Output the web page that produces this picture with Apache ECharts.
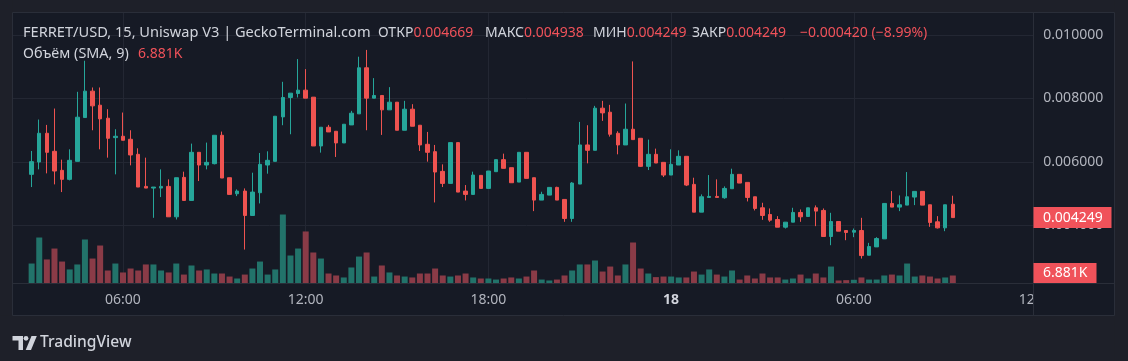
<!DOCTYPE html>
<html><head><meta charset="utf-8">
<script src="https://cdn.jsdelivr.net/npm/echarts@6/dist/echarts.min.js"></script>
<style>html,body{margin:0;padding:0;background:#161a25;}#c{width:1128px;height:361px;}</style>
</head><body><div id="c"></div>
<script>
// ---- data (15-minute candles, FERRET/USD) ----
const START_DAY = 17;          // first slot day
const START_MINUTE = 150;      // 02:30 = first (empty) slot
const SLOT_MINUTES = 15;
const SLOT_COUNT = 135;        // slots on the time axis
const FIRST_CANDLE_SLOT = 2;   // first candle at 03:00

const open = [
0.005611,0.006000,0.006905,0.006337,0.005737,0.005453,0.006021,0.007400,0.008232,0.007789,
0.007379,0.006768,0.006811,0.006716,0.006242,0.005232,0.005179,0.005179,0.005232,0.004274,
0.005516,0.004789,0.006305,0.005905,0.005947,0.006842,0.005505,0.005000,0.005084,0.004316,
0.005032,0.005905,0.006021,0.007421,0.008032,0.008158,0.008263,0.008042,0.006505,0.007095,
0.006968,0.006600,0.007168,0.007516,0.008968,0.008011,0.008095,0.007642,0.007884,0.007000,
0.007663,0.007158,0.006558,0.006326,0.005705,0.005326,0.006611,0.005084,0.004979,0.005579,
0.005168,0.005695,0.006074,0.005821,0.005368,0.006305,0.005505,0.004800,0.004958,0.005200,
0.004821,0.004221,0.005305,0.006537,0.006368,0.007695,0.007568,0.006905,0.006537,0.007032,
0.006747,0.005863,0.006242,0.005989,0.005589,0.005905,0.006179,0.005295,0.004421,0.004884,
0.004916,0.004874,0.005158,0.005611,0.005358,0.004905,0.004558,0.004347,0.004189,0.003947,
0.004105,0.004411,0.004284,0.004558,0.004474,0.003653,0.004126,0.003842,0.003789,0.003842,
0.003063,0.003326,0.003579,0.004695,0.004579,0.004642,0.004895,0.005074,0.004653,0.004116,
0.003926,0.004669];
const high = [
0.006347,0.007337,0.007168,0.007684,0.006074,0.006400,0.008211,0.009189,0.008347,0.008347,
0.007663,0.007032,0.007558,0.007000,0.006432,0.006137,0.005211,0.005768,0.005453,0.005505,
0.005695,0.006579,0.006305,0.006611,0.006842,0.006958,0.005505,0.005137,0.005168,0.005663,
0.006284,0.006337,0.007442,0.008526,0.008168,0.009242,0.008926,0.008042,0.007095,0.007168,
0.006968,0.007189,0.007611,0.009316,0.009530,0.008642,0.008095,0.008358,0.007884,0.007926,
0.007821,0.007158,0.006947,0.006537,0.005926,0.006611,0.006611,0.005274,0.005695,0.005579,
0.005716,0.006074,0.006263,0.005821,0.006305,0.006305,0.005505,0.005063,0.005200,0.005221,
0.004821,0.005368,0.007263,0.007158,0.007768,0.007926,0.007800,0.006968,0.007842,0.009168,
0.006747,0.006705,0.006421,0.005989,0.006400,0.006368,0.006179,0.005505,0.004979,0.005589,
0.005453,0.005232,0.005789,0.005611,0.005358,0.004905,0.004716,0.004537,0.004295,0.004105,
0.004558,0.004505,0.004558,0.004632,0.004537,0.004400,0.004126,0.003842,0.003905,0.004242,
0.003453,0.003632,0.004695,0.005084,0.004947,0.005684,0.005074,0.005074,0.004653,0.004295,
0.004653,0.004938];
const low = [
0.005211,0.005768,0.005642,0.005295,0.005053,0.005421,0.006021,0.007400,0.007000,0.006400,
0.006137,0.005611,0.006684,0.005895,0.005211,0.005179,0.004242,0.004895,0.004274,0.004189,
0.004789,0.004789,0.005400,0.005768,0.005926,0.005495,0.004979,0.004926,0.003242,0.004316,
0.004695,0.005632,0.006021,0.007158,0.006874,0.008032,0.008011,0.006505,0.006295,0.006947,
0.006158,0.006600,0.007168,0.007516,0.007000,0.008011,0.006853,0.007642,0.007000,0.007000,
0.007126,0.006347,0.006011,0.004726,0.005211,0.005326,0.005053,0.004789,0.004979,0.005168,
0.005168,0.005695,0.005800,0.005347,0.005368,0.005484,0.004453,0.004800,0.004958,0.004800,
0.004116,0.004116,0.005305,0.005958,0.006368,0.007295,0.006800,0.006242,0.006537,0.006705,
0.005842,0.005747,0.005968,0.005526,0.005589,0.005905,0.005242,0.004421,0.004421,0.004884,
0.004884,0.004842,0.005158,0.005337,0.004758,0.004474,0.004179,0.004116,0.003947,0.003905,
0.004105,0.004116,0.004284,0.003979,0.003653,0.003379,0.003821,0.003537,0.003632,0.002958,
0.003063,0.003326,0.003579,0.004579,0.004453,0.004642,0.004642,0.004642,0.003958,0.003905,
0.003821,0.004249];
const close = [
0.006011,0.006905,0.006305,0.005716,0.005453,0.006053,0.007411,0.008232,0.007768,0.007358,
0.006747,0.006811,0.006684,0.006221,0.005211,0.005179,0.005211,0.005232,0.004274,0.005505,
0.004789,0.006305,0.005905,0.005989,0.006842,0.005495,0.004979,0.005084,0.004316,0.005053,
0.005926,0.006053,0.007442,0.008032,0.008168,0.008263,0.008011,0.006505,0.007095,0.006947,
0.006600,0.007189,0.007537,0.008968,0.008011,0.008095,0.007642,0.007884,0.007000,0.007663,
0.007126,0.006537,0.006305,0.005684,0.005326,0.006611,0.005053,0.004979,0.005589,0.005168,
0.005716,0.006074,0.005800,0.005347,0.006305,0.005484,0.004800,0.004979,0.005200,0.004800,
0.004221,0.005337,0.006537,0.006368,0.007695,0.007547,0.006874,0.006537,0.007032,0.006705,
0.005863,0.006242,0.005968,0.005589,0.005926,0.006179,0.005274,0.004421,0.004905,0.004916,
0.004884,0.005168,0.005611,0.005337,0.004884,0.004537,0.004316,0.004168,0.003947,0.004105,
0.004411,0.004274,0.004558,0.004453,0.003653,0.004126,0.003821,0.003779,0.003842,0.003053,
0.003337,0.003589,0.004695,0.004579,0.004653,0.004905,0.005074,0.004642,0.004095,0.003926,
0.004653,0.004249];
// volume, thousands
const volumeK = [
17.2,39.6,20.7,30.1,18.9,12.1,16.4,37.9,21.5,32.7,
11.2,17.2,9.5,12.9,11.2,16.4,16.4,11.2,9.5,17.2,
7.7,15.5,11.2,12.1,8.6,8.6,6.0,4.3,7.7,12.9,
18.9,7.7,12.1,59.4,24.1,30.1,44.8,26.7,21.5,8.6,
6.9,5.2,13.8,23.2,26.7,6.0,15.5,9.5,6.9,6.0,
5.2,8.6,8.6,12.9,6.9,6.0,6.9,8.6,5.2,4.3,
4.3,3.4,4.3,5.2,4.3,6.0,11.2,3.4,2.6,3.4,
6.9,11.2,16.4,16.4,19.8,10.3,14.6,6.9,16.4,35.3,
12.9,8.6,5.5,6.0,6.0,5.2,5.2,10.3,7.7,12.1,
7.7,6.0,11.2,3.4,6.9,4.3,8.6,5.2,5.2,3.4,
4.3,7.7,4.3,8.6,5.2,14.6,2.6,2.9,3.2,5.2,
3.4,3.4,6.9,7.7,6.9,17.2,6.0,6.9,6.0,4.3,
5.2,6.881];
const priceTicks = { min: 0.002, max: 0.010, step: 0.002 };
const TITLE_TEXT = 'FERRET/USD, 15, Uniswap V3 | GeckoTerminal.com';
const VOLUME_TITLE = 'Объём (SMA, 9)';
const OHLC_LABELS = ['ОТКР', 'МАКС', 'МИН', 'ЗАКР'];

// ---- style ----
const PANE = '#161a25', OUTER = '#1e2029', BORDER = '#2a2e39', GRIDC = '#232733';
const TEXT = '#b2b5be', LIGHT = '#d1d4dc';
const UP = '#26a69a', DOWN = '#ef5350', UPV = '#22736a', DOWNV = '#8a3b47', LABELRED = '#f0525a';
const FONT = '"Noto Sans", sans-serif';
const SLOT_W = 7.613, LEFT = 12.6;

const pad = n => (n < 10 ? '0' : '') + n;
const categories = [];
for (let i = 0; i < SLOT_COUNT; i++) {
  const t = START_MINUTE + i * SLOT_MINUTES;
  const day = START_DAY + Math.floor(t / 1440);
  const m = t % 1440;
  categories.push(day + ' ' + pad(Math.floor(m / 60)) + ':' + pad(m % 60));
}
const isMajor = (v) => { const hm = v.slice(3); return hm.slice(3) === '00' && (+hm.slice(0, 2)) % 6 === 0; };

const candleData = open.map((o, i) => [FIRST_CANDLE_SLOT + i, o, close[i], low[i], high[i]]);
const volData = volumeK.map((v, i) => ({ value: [FIRST_CANDLE_SLOT + i, v], itemStyle: { color: close[i] >= open[i] ? UPV : DOWNV } }));

const n = open.length - 1;
const lastO = open[n], lastH = high[n], lastL = low[n], lastC = close[n];
const chg = lastC - lastO;
const pct = Math.trunc(chg / lastO * 10000) / 100;
const fmtSigned = (v, d) => (v < 0 ? '\u2212' : '+') + Math.abs(v).toFixed(d);
const lastColor = lastC >= lastO ? UP : LABELRED;

const chart = echarts.init(document.getElementById('c'), null, { width: 1128, height: 361 });

function txt(id, x, y, text, fill, size, extra) {
  return { type: 'text', id, x, y, z: 30, silent: true,
    style: Object.assign({ text, fill, fontSize: size, fontFamily: FONT, align: 'left', verticalAlign: 'middle' }, extra || {}) };
}
function pair(id, x, label, value) {
  return txt(id, x, 33, '{l|' + label + '}{v|' + value + '}', LIGHT, 14, {
    rich: { l: { fill: LIGHT, fontSize: 14, fontFamily: FONT }, v: { fill: lastColor, fontSize: 14, fontFamily: FONT } } });
}

const baseGraphic = [
  // outer frame area
  { type: 'rect', id: 'oTop', z: 8, silent: true, shape: { x: 0, y: 0, width: 1128, height: 12.5 }, style: { fill: OUTER } },
  { type: 'rect', id: 'oLeft', z: 8, silent: true, shape: { x: 0, y: 0, width: 12.5, height: 361 }, style: { fill: OUTER } },
  { type: 'rect', id: 'oBot', z: 8, silent: true, shape: { x: 0, y: 315.5, width: 1128, height: 46 }, style: { fill: OUTER } },
  { type: 'rect', id: 'oRight', z: 8, silent: true, shape: { x: 1114.5, y: 0, width: 14, height: 361 }, style: { fill: OUTER } },
  // price scale panel
  { type: 'rect', id: 'scale', z: 5, silent: true, shape: { x: 1033.5, y: 12.5, width: 81, height: 303 }, style: { fill: PANE } },
  // frame lines
  { type: 'rect', id: 'frame', z: 9, silent: true, shape: { x: 12.5, y: 12.5, width: 1102, height: 303 }, style: { fill: null, stroke: BORDER, lineWidth: 1 } },
  { type: 'line', id: 'sepH', z: 9, silent: true, shape: { x1: 12.5, y1: 283.5, x2: 1114.5, y2: 283.5 }, style: { stroke: BORDER, lineWidth: 1 } },
  { type: 'line', id: 'sepV', z: 9, silent: true, shape: { x1: 1033.5, y1: 12.5, x2: 1033.5, y2: 315.5 }, style: { stroke: BORDER, lineWidth: 1 } },
  // legend
  txt('t1', 23, 33, TITLE_TEXT, LIGHT, 14.6),
  pair('p0', 378, OHLC_LABELS[0], lastO.toFixed(6)),
  pair('p1', 485, OHLC_LABELS[1], lastH.toFixed(6)),
  pair('p2', 593, OHLC_LABELS[2], lastL.toFixed(6)),
  pair('p3', 692, OHLC_LABELS[3], lastC.toFixed(6)),
  txt('chg', 800, 33, fmtSigned(chg, 6) + ' (' + fmtSigned(pct, 2) + '%)', lastColor, 14),
  txt('t2', 23, 54, VOLUME_TITLE, LIGHT, 14.4),
  txt('vv', 138, 54, volumeK[n].toFixed(3) + 'K', lastColor, 14),
  // TradingView logo
  { type: 'polygon', id: 'lg1', z: 30, silent: true, shape: { points: [[12.5, 336], [23, 336], [23, 350], [18.5, 350], [18.5, 340.5], [12.5, 340.5]] }, style: { fill: LIGHT } },
  { type: 'circle', id: 'lg2', z: 30, silent: true, shape: { cx: 26, cy: 338.3, r: 2.4 }, style: { fill: LIGHT } },
  { type: 'polygon', id: 'lg3', z: 30, silent: true, shape: { points: [[31.5, 336], [36.8, 336], [31, 350], [25.7, 350]] }, style: { fill: LIGHT } },
  txt('tv', 40, 343, 'TradingView', LIGHT, 15.6, { fontWeight: 500 })
];

const option = {
  animation: false,
  backgroundColor: PANE,
  grid: [
    { left: LEFT, top: 35, width: SLOT_COUNT * SLOT_W, height: 254, outerBoundsMode: 'none', containLabel: false },
    { left: LEFT + SLOT_W / 2, top: 13, width: (SLOT_COUNT - 1) * SLOT_W, height: 270.5, outerBoundsMode: 'none', containLabel: false }
  ],
  xAxis: [
    { type: 'category', gridIndex: 0, data: categories, boundaryGap: true, show: false },
    { type: 'category', gridIndex: 1, data: categories, boundaryGap: false, z: 0,
      axisLine: { show: false }, axisTick: { show: false },
      axisLabel: { interval: (i, v) => isMajor(v), color: TEXT, fontSize: 14, fontFamily: FONT, margin: 10,
        formatter: v => { const hm = v.slice(3); return hm === '00:00' ? '{d|' + v.slice(0, 2) + '}' : hm; },
        rich: { d: { color: LIGHT, fontWeight: 'bold', fontSize: 14, fontFamily: FONT } } },
      splitLine: { show: true, interval: (i, v) => isMajor(v), lineStyle: { color: GRIDC, width: 1 } } }
  ],
  yAxis: [
    { type: 'value', gridIndex: 0, position: 'right', min: priceTicks.min, max: priceTicks.max, interval: priceTicks.step, z: 0,
      axisLine: { show: false }, axisTick: { show: false }, axisLabel: { show: false },
      splitLine: { show: true, lineStyle: { color: ['rgba(0,0,0,0)', GRIDC, GRIDC, GRIDC, GRIDC], width: 1 } } },
    { type: 'value', gridIndex: 0, position: 'right', min: priceTicks.min, max: priceTicks.max, interval: priceTicks.step, z: 10,
      axisLine: { show: false }, axisTick: { show: false }, splitLine: { show: false },
      axisLabel: { showMinLabel: false, color: TEXT, fontSize: 14, fontFamily: FONT, margin: 3, formatter: v => v.toFixed(6) } },
    { type: 'value', gridIndex: 1, min: 0, max: 232.9, show: false, splitLine: { show: false } }
  ],
  series: [
    { type: 'bar', name: 'volume', xAxisIndex: 1, yAxisIndex: 2, data: volData, barWidth: 6, z: 1, silent: true },
    { type: 'candlestick', name: 'price', xAxisIndex: 0, yAxisIndex: 0, data: candleData,
      encode: { x: 0, y: [1, 2, 3, 4] }, barWidth: 4, z: 2, silent: true,
      itemStyle: { color: UP, color0: DOWN, borderColor: UP, borderColor0: DOWN, borderWidth: 1 },
      markLine: { symbol: 'none', silent: true, label: { show: false },
        lineStyle: { color: DOWN, type: [1, 2], width: 1 }, data: [{ yAxis: lastC }] } }
  ],
  graphic: { elements: baseGraphic }
};
chart.setOption(option);

// last price & last volume tags on the price scale
const yPrice = chart.convertToPixel({ yAxisIndex: 0 }, lastC);
const yVolRaw = chart.convertToPixel({ yAxisIndex: 2 }, volumeK[n]);
const yVol = Math.min(yVolRaw, 283 - 10);
const tags = [
  { type: 'rect', id: 'pTag', z: 25, silent: true, shape: { x: 1033.5, y: yPrice - 10.5, width: 78, height: 21 }, style: { fill: LABELRED } },
  txt('pTagT', 1043, yPrice, lastC.toFixed(6), '#ffffff', 14),
  { type: 'rect', id: 'vTag', z: 25, silent: true, shape: { x: 1033.5, y: yVol - 10, width: 63, height: 20 }, style: { fill: LABELRED } },
  txt('vTagT', 1043, yVol, volumeK[n].toFixed(3) + 'K', '#ffffff', 14)
];
chart.setOption({ graphic: { elements: baseGraphic.concat(tags) } });
</script></body></html>
